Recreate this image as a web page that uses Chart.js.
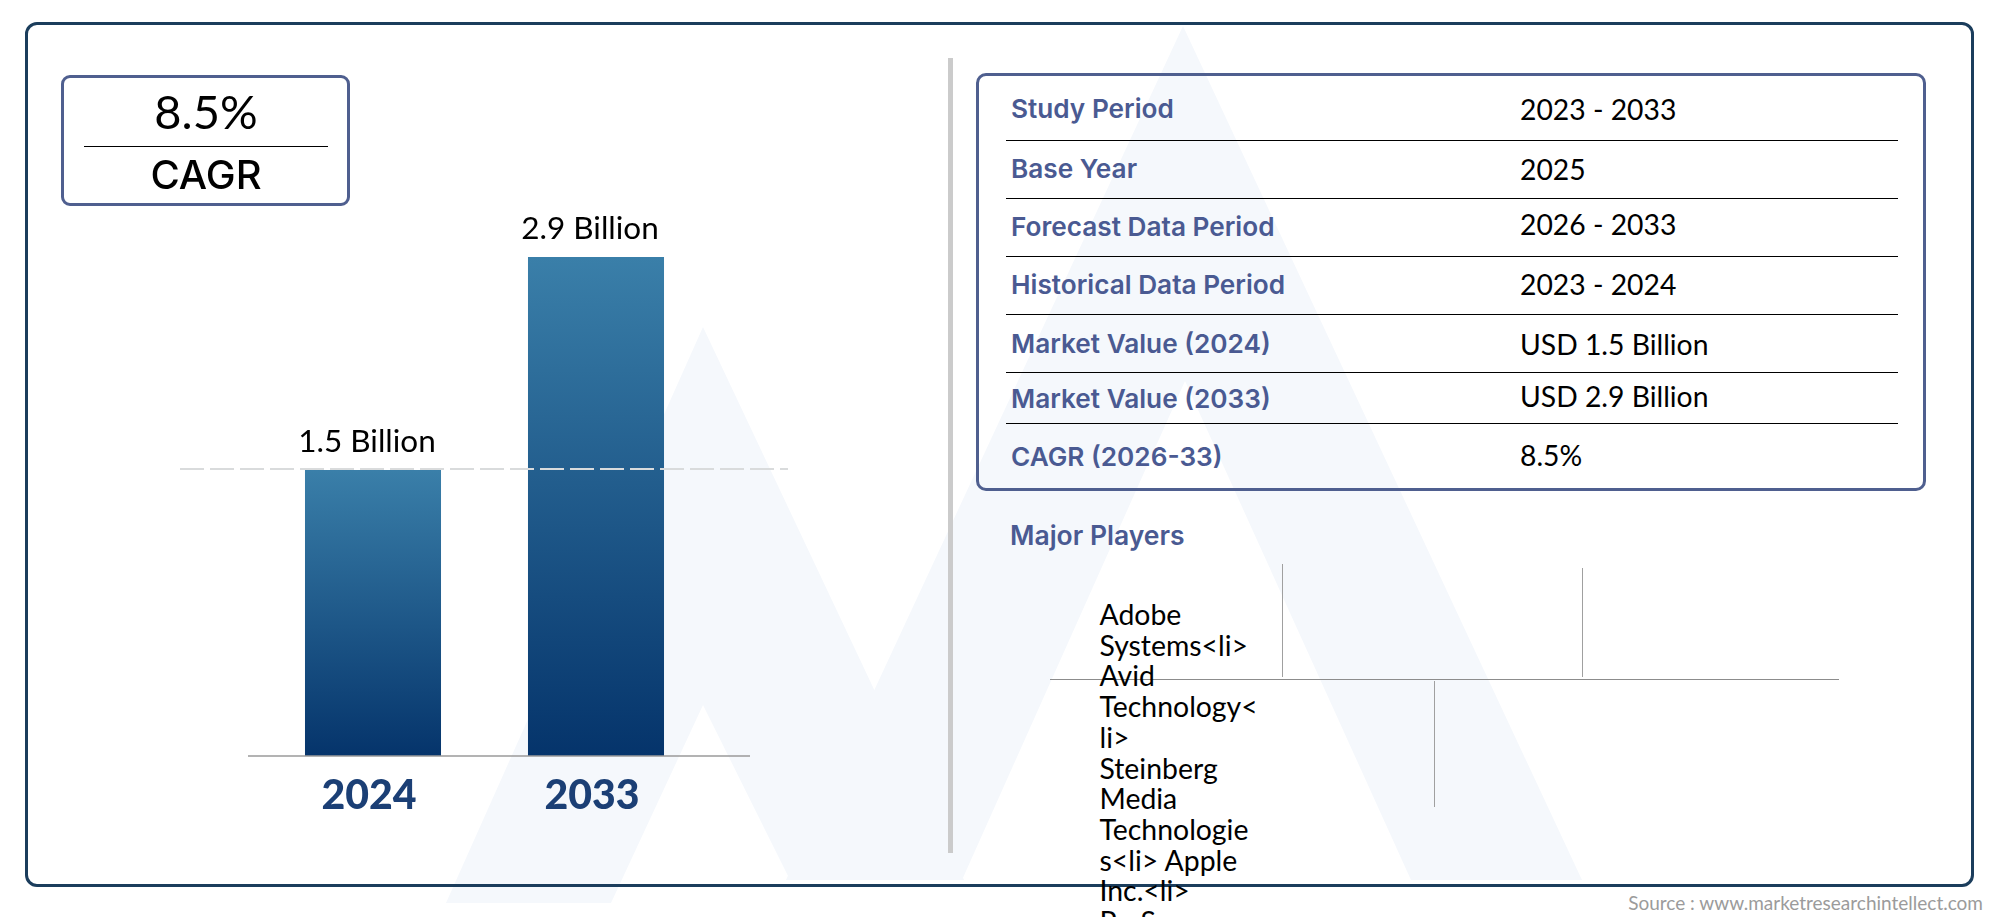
<!DOCTYPE html>
<html>
<head>
<meta charset="utf-8">
<title>Market Size</title>
<script src="https://cdn.jsdelivr.net/npm/chart.js@4"></script>
<style>
html, body { margin: 0; padding: 0; background: #fff; }
#page { position: relative; width: 2000px; height: 917px; overflow: hidden; font-family: Lato, sans-serif; color: #000; }
#page > * { position: absolute; }
#watermark { left: 0; top: 0; }
#frame { left: 25px; top: 22px; width: 1943px; height: 859px; border: 3px solid #1b3d5c; border-radius: 12px; }
#chart { left: 0; top: 0; }
#divider { left: 948px; top: 58px; width: 5px; height: 795px; background: #cbcbcb; }
#cagrBox { left: 61px; top: 75px; width: 283px; height: 125px; border: 3px solid #4f5f8f; border-radius: 9px; }
#cagrRule { left: 84px; top: 146px; width: 244px; height: 1px; background: #000; }
.center { transform: translate(-50%, -50%); white-space: nowrap; }
.middle { transform: translateY(-50%); white-space: nowrap; }
#cagrValue { left: 206px; top: 111px; font-size: 47px; }
#cagrName { left: 206px; top: 174px; font: 500 40px Inter, sans-serif; }
#infoBox { left: 976px; top: 73px; width: 944px; height: 412px; border: 3px solid #4f5f8f; border-radius: 10px; }
.rowRule { left: 1006px; width: 892px; height: 1px; background: #000; }
.rowLabel { left: 1011px; font: 600 26.2px Inter, sans-serif; color: #4a5a92; }
.rowValue { left: 1520px; font-size: 28.3px; }
#playersTitle { left: 1010px; top: 535px; font: 600 26.5px Inter, sans-serif; color: #4a5a92; }
#players { left: 1099.5px; top: 599px; font-size: 28.4px; line-height: 30.7px; white-space: pre; }
.tlH { background: #8c8c8c; height: 1px; }
.tlV { background: #a0a0a0; width: 1px; }
#source { right: 17px; top: 902px; font-size: 19px; color: #9b9b9b; }
</style>
</head>
<body>
<div id="page">
  <svg id="watermark" width="2000" height="917">
    <polygon points="703,327 964,880 790,880 703,705 611,903 446,903" fill="#f5f8fc"/>
    <polygon points="1183,26 1582,880 1411,880 1185,381 962,880 786,880" fill="#f5f8fc"/>
  </svg>
  <div id="frame"></div>
  <canvas id="chart" width="950" height="917"></canvas>
  <div id="divider"></div>
  <div id="cagrBox"></div>
  <div id="cagrValue" class="center">8.5%</div>
  <div id="cagrRule"></div>
  <div id="cagrName" class="center">CAGR</div>
  <div id="infoBox"></div>
  <div id="playersTitle" class="middle">Major Players</div>
  <div class="tlH" style="left:1050px;top:679px;width:789px"></div>
  <div class="tlV" style="left:1282px;top:564px;height:113px"></div>
  <div class="tlV" style="left:1582px;top:568px;height:109px"></div>
  <div class="tlV" style="left:1434px;top:681px;height:126px"></div>
  <div id="players"></div>
  <div id="source" class="middle">Source : www.marketresearchintellect.com</div>
</div>
<script>
// data
const years = ['2024', '2033'];
const marketValues = [1.5, 2.9];
const valueLabels = ['1.5 Billion', '2.9 Billion'];
const infoLabels = ['Study Period', 'Base Year', 'Forecast Data Period', 'Historical Data Period', 'Market Value (2024)', 'Market Value (2033)', 'CAGR (2026-33)'];
const infoValues = ['2023 - 2033', '2025', '2026 - 2033', '2023 - 2024', 'USD 1.5 Billion', 'USD 2.9 Billion', '8.5%'];
const playerLines = ['Adobe', 'Systems<li>', 'Avid', 'Technology<', 'li>', 'Steinberg', 'Media', 'Technologie', 's<li> Apple', 'Inc.<li>', 'PreSonus'];

// the bars in the picture do not start at zero, this floor keeps both heights
const axisFloor = -0.38;

// layout of the table
const labelCenters = [108, 168, 226, 284, 343, 398, 456];
const valueCenters = [109, 169, 224, 284, 344, 396, 455];
const ruleTops = [140, 198, 256, 314, 372, 423];

const page = document.getElementById('page');
infoLabels.forEach((text, i) => {
    const label = document.createElement('div');
    label.className = 'rowLabel middle';
    label.style.top = labelCenters[i] + 'px';
    label.textContent = text;
    page.appendChild(label);

    const value = document.createElement('div');
    value.className = 'rowValue middle';
    value.style.top = valueCenters[i] + 'px';
    value.textContent = infoValues[i];
    page.appendChild(value);
});
ruleTops.forEach(top => {
    const rule = document.createElement('div');
    rule.className = 'rowRule';
    rule.style.top = top + 'px';
    page.appendChild(rule);
});
document.getElementById('players').textContent = playerLines.join('\n');

// baseline, dashed reference line and the labels above the bars
const annotations = {
    id: 'annotations',
    afterDatasetsDraw(chart) {
        const { ctx, scales: { x, y } } = chart;
        const baseY = y.getPixelForValue(axisFloor);
        const refY = y.getPixelForValue(marketValues[0]) - 1;
        ctx.save();

        ctx.strokeStyle = '#9a9a9a';
        ctx.lineWidth = 1.5;
        ctx.beginPath();
        ctx.moveTo(248, baseY);
        ctx.lineTo(750, baseY);
        ctx.stroke();

        ctx.strokeStyle = '#d9dbdc';
        ctx.lineWidth = 2;
        ctx.setLineDash([24, 6]);
        ctx.beginPath();
        ctx.moveTo(180, refY);
        ctx.lineTo(788, refY);
        ctx.stroke();
        ctx.setLineDash([]);

        ctx.fillStyle = '#000';
        ctx.font = '31.5px Lato, sans-serif';
        ctx.textAlign = 'center';
        ctx.textBaseline = 'middle';
        marketValues.forEach((v, i) => {
            ctx.fillText(valueLabels[i], x.getPixelForValue(i) - 6, y.getPixelForValue(v) - 28.5);
        });
        ctx.restore();
    }
};

new Chart(document.getElementById('chart'), {
    type: 'bar',
    data: {
        labels: years,
        datasets: [{
            data: marketValues,
            base: axisFloor,
            barPercentage: 0.61,
            categoryPercentage: 1,
            backgroundColor(context) {
                const { chart, parsed } = context;
                if (!chart.chartArea || !parsed) return '#1a5586';
                const g = chart.ctx.createLinearGradient(0, chart.scales.y.getPixelForValue(parsed.y), 0, chart.scales.y.getPixelForValue(axisFloor));
                g.addColorStop(0, '#3a7fa9');
                g.addColorStop(1, '#05346b');
                return g;
            }
        }]
    },
    options: {
        responsive: false,
        animation: false,
        layout: { padding: { left: 261.5, right: 242.5, top: 257, bottom: 0 } },
        plugins: { legend: { display: false }, tooltip: { enabled: false } },
        scales: {
            x: {
                grid: { display: false },
                border: { display: false },
                ticks: {
                    padding: 7,
                    labelOffset: -4,
                    maxRotation: 0,
                    color: '#1b3f75',
                    font: { family: 'Lato, sans-serif', size: 41, weight: 900 }
                },
                afterFit(scale) { scale.height = 161; }
            },
            y: { display: false, min: axisFloor, max: 2.9 }
        }
    },
    plugins: [annotations]
});
</script>
</body>
</html>
